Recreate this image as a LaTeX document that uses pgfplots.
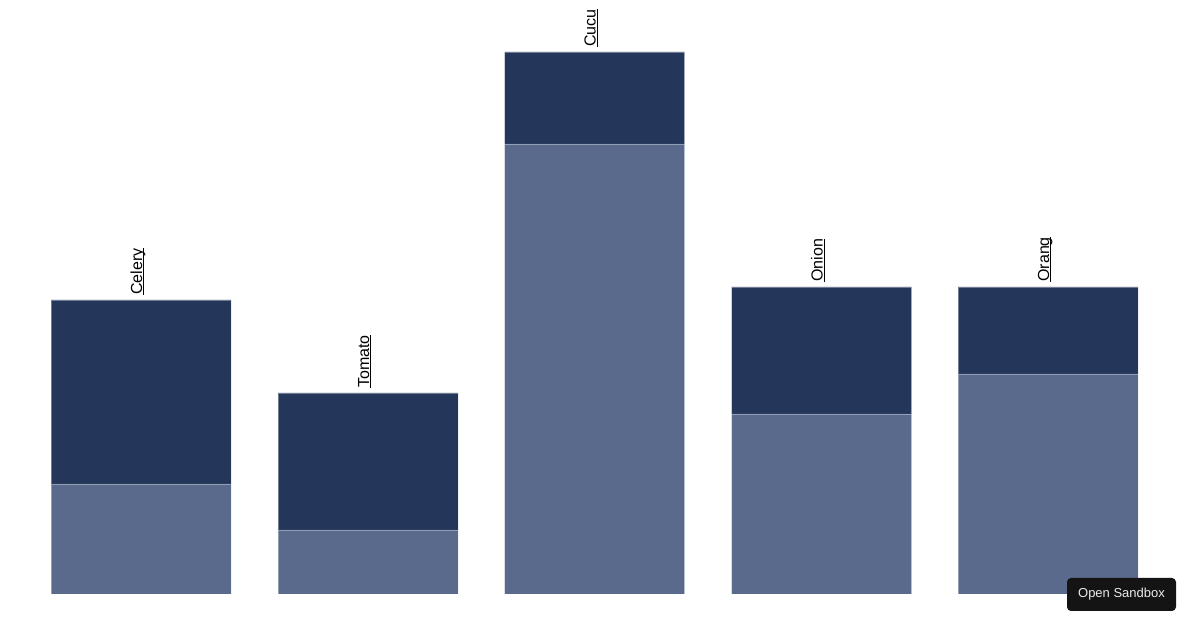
\documentclass[border=0pt]{standalone}
\usepackage{pgfplots}
\pgfplotsset{compat=1.18}
\usepackage{fontspec}
\setmainfont{Liberation Sans}
\definecolor{darkbar}{RGB}{36,54,89}
\definecolor{lightbar}{RGB}{89,106,140}
\definecolor{btn}{RGB}{20,20,20}
\newsavebox\ulbox
\newcommand\myul[1]{\leavevmode\sbox\ulbox{#1}\rlap{\vrule width \wd\ulbox height -0.55pt depth 1.05pt}\usebox\ulbox}
\tikzset{barlab/.style={rotate=90, anchor=base west, inner sep=0pt, font=\fontsize{8pt}{9pt}\selectfont}}
\begin{document}
\begin{tikzpicture}
\path[use as bounding box] (0,0) rectangle (600pt,315pt);
\clip (0,0) rectangle (600pt,315pt);
\begin{axis}[
  at={(0,0)}, anchor=south west,
  scale only axis, width=600pt, height=315pt,
  hide axis,
  xmin=0, xmax=1200, ymin=-36, ymax=594,
  ybar stacked, bar width=180,
  clip=false,
]
\addplot[fill=lightbar, draw=white, draw opacity=0.35, line width=0.25pt]
  coordinates {(141,110) (368,64) (594.5,450) (821.5,180) (1048,220)};
\addplot[fill=darkbar, draw=white, draw opacity=0.35, line width=0.25pt]
  coordinates {(141,184) (368,137) (594.5,92) (821.5,127) (1048,87)};
\node[barlab] at (axis cs:142,299) {\myul{Celery}};
\node[barlab] at (axis cs:369,206) {\myul{Tomato}};
\node[barlab] at (axis cs:595.5,547) {\myul{Cucu}};
\node[barlab] at (axis cs:822.5,312) {\myul{Onion}};
\node[barlab] at (axis cs:1049,312) {\myul{Orang}};
\end{axis}
\node[fill=btn, rounded corners=2pt, minimum width=54.5pt, minimum height=16.5pt, inner sep=0pt,
  text=white!92!black, font=\fontsize{6.5pt}{8pt}\selectfont] at (560.75pt,17.75pt) {Open Sandbox};
\end{tikzpicture}
\end{document}
